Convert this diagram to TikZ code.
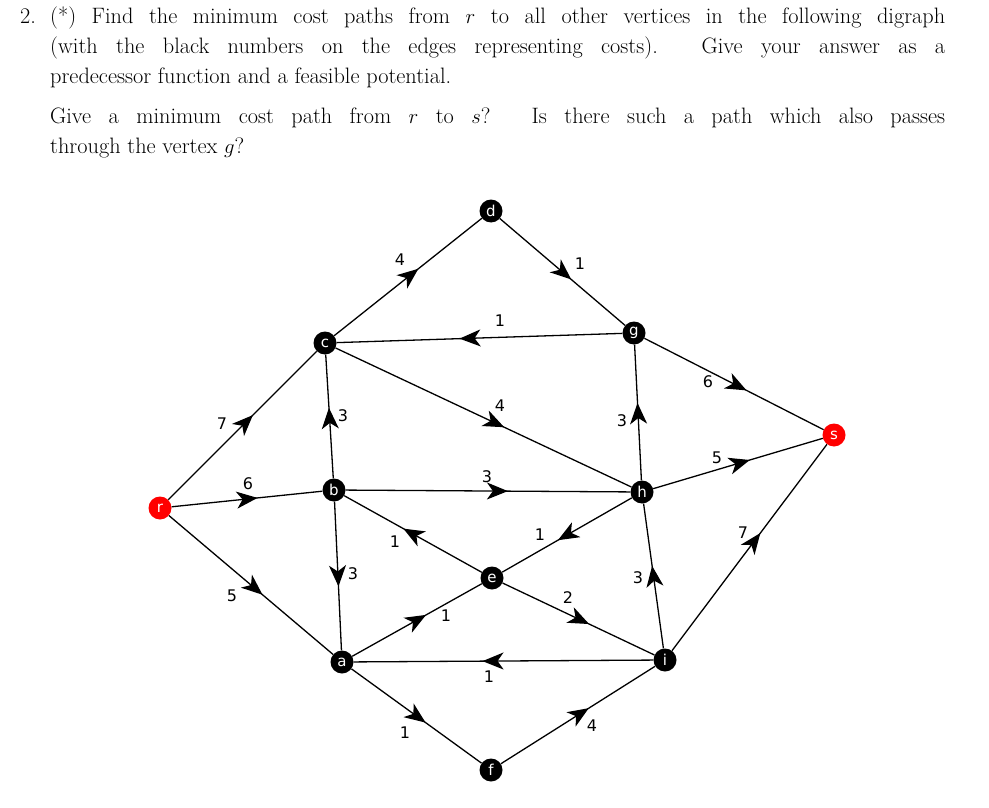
\documentclass[tikz,border=0pt]{standalone}
\usepackage{fontspec}
\newfontfamily\sansf{DejaVu Sans}
\usetikzlibrary{arrows.meta,decorations.markings}
\begin{document}
\begin{tikzpicture}[x=1pt,y=-1pt,
 vtx/.style={circle,fill=black,text=white,inner sep=0pt,minimum size=23pt,font=\sansf\fontsize{15}{15}\selectfont},
 red/.style={vtx,fill=red},
 lab/.style={font=\sansf\fontsize{16}{16}\selectfont,inner sep=0pt},
 ed/.style={line width=1.3pt,postaction={decorate},decoration={markings,mark=at position #1 with {\arrow{Stealth[length=21pt,width=17pt,inset=6pt]}}}},
 ed/.default=0.57]
\useasboundingbox (0,0) rectangle (989,808);
\node[anchor=north west,inner sep=0pt,text width=895pt,align=justify,font=\fontsize{22.3}{30}\selectfont] at (50,7)
{\hspace*{-30pt}\makebox[30pt][l]{2.}(*) Find the minimum cost paths from $r$ to all other vertices in the following digraph\linebreak (with the black numbers on the edges representing costs). Give your answer as a\linebreak predecessor function and a feasible potential.\par\vspace{10pt}
Give a minimum cost path from $r$ to $s$? Is there such a path which also passes\linebreak through the vertex $g$?};
\node[red] (r) at (160,508) {r};
\node[vtx] (c) at (325,343) {c};
\node[vtx] (d) at (491,211) {d};
\node[vtx] (g) at (634,333) {g};
\node[red] (s) at (834,435) {s};
\node[vtx] (b) at (334,490) {b};
\node[vtx] (h) at (642,492) {h};
\node[vtx] (e) at (492,578) {e};
\node[vtx] (a) at (342,662) {a};
\node[vtx] (i) at (665,660) {i};
\node[vtx] (f) at (491,770) {f};
\draw[ed] (r) -- (c); \draw[ed] (r) -- (b); \draw[ed] (r) -- (a);
\draw[ed] (c) -- (d); \draw[ed] (d) -- (g); \draw[ed] (g) -- (c);
\draw[ed] (g) -- (s); \draw[ed] (c) -- (h); \draw[ed] (b) -- (c);
\draw[ed] (b) -- (h); \draw[ed] (b) -- (a); \draw[ed] (e) -- (b);
\draw[ed] (h) -- (e); \draw[ed] (h) -- (g); \draw[ed] (h) -- (s);
\draw[ed] (i) -- (h); \draw[ed] (i) -- (s); \draw[ed] (e) -- (i);
\draw[ed] (a) -- (e); \draw[ed] (i) -- (a); \draw[ed] (a) -- (f);
\draw[ed] (f) -- (i);
\node[lab] (l1) at (222,424) {7}; \node[lab] (l2) at (248,484) {6};
\node[lab] (l3) at (232,596) {5}; \node[lab] (l4) at (400,260) {4};
\node[lab] (l5) at (580,264) {1}; \node[lab] (l6) at (500,321) {1};
\node[lab] (l7) at (708,382) {6}; \node[lab] (l8) at (500,406) {4};
\node[lab] (l9) at (343,416) {3}; \node[lab] (l10) at (487,477) {3};
\node[lab] (l11) at (353,574) {3}; \node[lab] (l12) at (395,542) {1};
\node[lab] (l13) at (540,535) {1}; \node[lab] (l14) at (622,421) {3};
\node[lab] (l15) at (717,458) {5}; \node[lab] (l16) at (638,578) {3};
\node[lab] (l17) at (743,533) {7}; \node[lab] (l18) at (568,598) {2};
\node[lab] (l19) at (446,616) {1}; \node[lab] (l20) at (489,677) {1};
\node[lab] (l21) at (405,733) {1}; \node[lab] (l22) at (592,726) {4};
\end{tikzpicture}
\end{document}
